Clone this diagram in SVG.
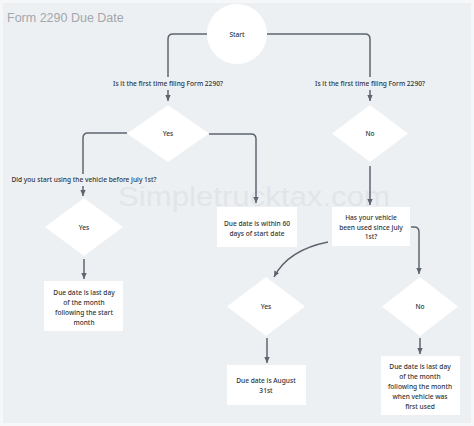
<svg xmlns="http://www.w3.org/2000/svg" width="474" height="426" viewBox="0 0 474 426">
<defs>
<style>
.node{fill:#ffffff;}
.lbl{font-family:"Noto Sans","Liberation Sans",sans-serif;font-size:6.6px;fill:#2f3438;text-anchor:middle;font-weight:500;}
.edge{fill:none;stroke:#5d6670;stroke-width:1.5;}
.elbl{font-family:"Noto Sans","Liberation Sans",sans-serif;font-size:6.6px;fill:#2f3438;text-anchor:middle;font-weight:500;}
</style>
<marker id="ah" markerUnits="userSpaceOnUse" markerWidth="7" markerHeight="7" refX="6" refY="3.5" orient="auto">
<path d="M0,0.8 L6,3.5 L0,6.2 z" fill="#5d6670"/>
</marker>
</defs>
<rect x="0" y="0" width="474" height="426" fill="#f6f7f9"/>
<rect x="3" y="3" width="468" height="420" fill="#edf0f3"/>
<text x="7" y="22" font-family="Liberation Sans, sans-serif" font-size="12.5" fill="#a3a7ab">Form 2290 Due Date</text>
<text x="254" y="205.5" font-family="Liberation Sans, sans-serif" font-size="27" fill="#e2e5e8" text-anchor="middle" textLength="272" lengthAdjust="spacingAndGlyphs">Simpletrucktax.com</text>

<g id="connectors">
<path class="edge" d="M207,34 H173 Q168,34 168,39 V77"/>
<text class="elbl" x="168" y="86">Is it the first time filing Form 2290?</text>
<path class="edge" d="M168,90 V101" marker-end="url(#ah)"/>
<path class="edge" d="M267,34 H365 Q370,34 370,39 V77"/>
<text class="elbl" x="370" y="86">Is it the first time filing Form 2290?</text>
<path class="edge" d="M370,90 V101" marker-end="url(#ah)"/>
<path class="edge" d="M127,133 H88 Q83,133 83,138 V174"/>
<text class="elbl" x="84" y="182">Did you start using the vehicle before July 1st?</text>
<path class="edge" d="M83,186 V196" marker-end="url(#ah)"/>
<path class="edge" d="M209,134 H251 Q256,134 256,139 V203" marker-end="url(#ah)"/>
<path class="edge" d="M370,166 V205" marker-end="url(#ah)"/>
<path class="edge" d="M84,259 V279" marker-end="url(#ah)"/>
<path class="edge" d="M328,242 Q288,250 274,277" marker-end="url(#ah)"/>
<path class="edge" d="M411,227 H414 Q419,227 419,232 V274" marker-end="url(#ah)"/>
<path class="edge" d="M267,338 V363" marker-end="url(#ah)"/>
<path class="edge" d="M420,338 V354" marker-end="url(#ah)"/>
</g>

<g id="start">
<circle class="node" cx="237" cy="34" r="30"/>
<text class="lbl" x="237" y="36.5">Start</text>
</g>
<g id="yes1">
<polygon class="node" points="168,105 209,133.5 168,162 127,133.5"/>
<text class="lbl" x="168" y="136">Yes</text>
</g>
<g id="no1">
<polygon class="node" points="370,105 408,133.5 370,162 332,133.5"/>
<text class="lbl" x="370" y="136">No</text>
</g>
<g id="yes2">
<polygon class="node" points="84,198 123,227 84,256 45,227"/>
<text class="lbl" x="84" y="229.5">Yes</text>
</g>
<g id="within60">
<rect class="node" x="217" y="207" width="80" height="40"/>
<text class="lbl" x="257" y="226">Due date is within 60</text>
<text class="lbl" x="257" y="235.5">days of start date</text>
</g>
<g id="hasused">
<rect class="node" x="332" y="207" width="78" height="39"/>
<text class="lbl" x="371" y="220">Has your vehicle</text>
<text class="lbl" x="371" y="229.5">been used since July</text>
<text class="lbl" x="371" y="239">1st?</text>
</g>
<g id="laststart">
<rect class="node" x="44" y="281" width="79" height="50"/>
<text class="lbl" x="84" y="294.5">Due date is last day</text>
<text class="lbl" x="84" y="304.5">of the month</text>
<text class="lbl" x="84" y="314.5">following the start</text>
<text class="lbl" x="84" y="324.5">month</text>
</g>
<g id="yes3">
<polygon class="node" points="266,277 305,306.5 266,336 227,306.5"/>
<text class="lbl" x="266" y="309">Yes</text>
</g>
<g id="no2">
<polygon class="node" points="420,277 458,306.5 420,336 382,306.5"/>
<text class="lbl" x="420" y="309">No</text>
</g>
<g id="august">
<rect class="node" x="227" y="365" width="79" height="40"/>
<text class="lbl" x="266" y="383">Due date is August</text>
<text class="lbl" x="266" y="393">31st</text>
</g>
<g id="lastused">
<rect class="node" x="381" y="356" width="79" height="59"/>
<text class="lbl" x="420" y="369">Due date is last day</text>
<text class="lbl" x="420" y="379">of the month</text>
<text class="lbl" x="420" y="389">following the month</text>
<text class="lbl" x="420" y="399">when vehicle was</text>
<text class="lbl" x="420" y="409">first used</text>
</g>
</svg>
